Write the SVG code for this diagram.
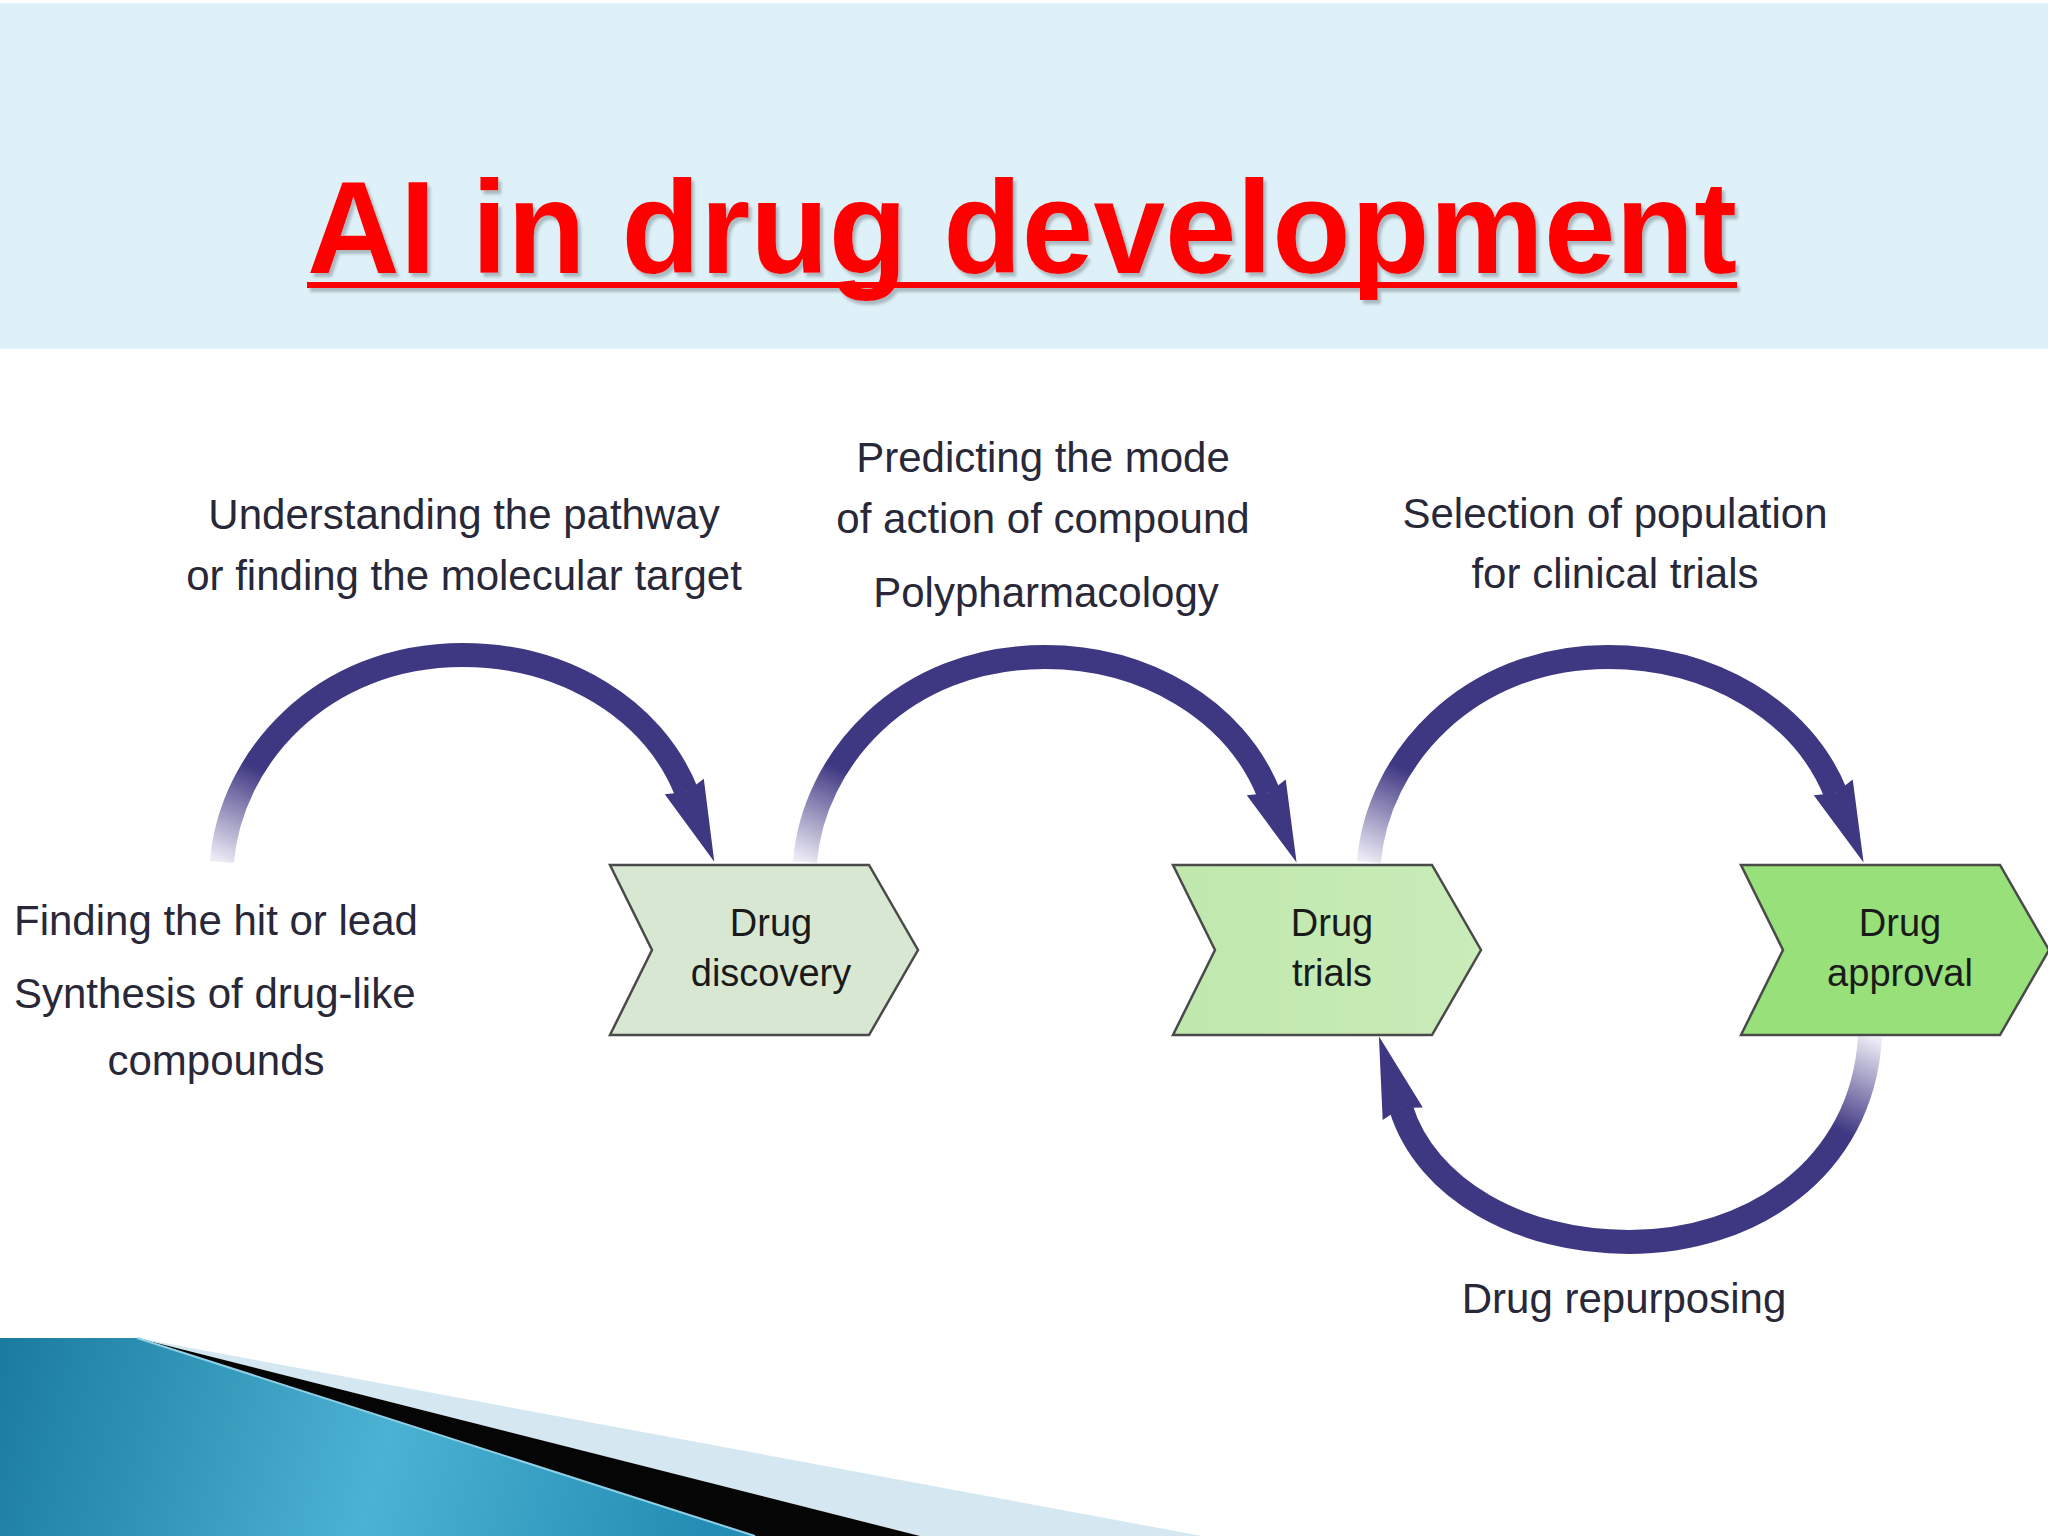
<svg xmlns="http://www.w3.org/2000/svg" width="2048" height="1536" viewBox="0 0 2048 1536">
  <style>
    .lbl { font-family: "Liberation Sans", Arial, sans-serif; font-size: 42px; fill: #282838; }
    .mid { text-anchor: middle; }
    .chev { stroke: #4a4a4a; stroke-width: 2.5; stroke-linejoin: miter; }
    .ctext { font-family: "Liberation Sans", Arial, sans-serif; font-size: 38px; fill: #1a1a1a; text-anchor: middle; }
    .arc { fill: none; stroke-width: 24; stroke-linecap: butt; }
  </style>
  <defs>
    <filter id="shadow" x="-5%" y="-20%" width="110%" height="150%">
      <feDropShadow dx="3" dy="4" stdDeviation="1.5" flood-color="#7e8a92" flood-opacity="0.55"/>
    </filter>
    <linearGradient id="teal" gradientUnits="userSpaceOnUse" x1="0" y1="1338" x2="700" y2="1536">
      <stop offset="0" stop-color="#1a7b9e"/>
      <stop offset="0.55" stop-color="#4cb2d3"/>
      <stop offset="1" stop-color="#238db3"/>
    </linearGradient>
    <linearGradient id="g1" gradientUnits="userSpaceOnUse" x1="222" y1="862" x2="262" y2="770">
      <stop offset="0" stop-color="#ecebf5"/>
      <stop offset="1" stop-color="#3e3782"/>
    </linearGradient>
    <linearGradient id="g2" gradientUnits="userSpaceOnUse" x1="805" y1="862" x2="845" y2="770">
      <stop offset="0" stop-color="#ecebf5"/>
      <stop offset="1" stop-color="#3e3782"/>
    </linearGradient>
    <linearGradient id="g3" gradientUnits="userSpaceOnUse" x1="1369" y1="862" x2="1409" y2="770">
      <stop offset="0" stop-color="#ecebf5"/>
      <stop offset="1" stop-color="#3e3782"/>
    </linearGradient>
    <linearGradient id="g4" gradientUnits="userSpaceOnUse" x1="1870" y1="1037" x2="1830" y2="1127">
      <stop offset="0" stop-color="#ecebf5"/>
      <stop offset="1" stop-color="#3e3782"/>
    </linearGradient>
    <linearGradient id="trialsFill" x1="0" y1="0" x2="1" y2="0">
      <stop offset="0" stop-color="#c0e8ad"/>
      <stop offset="1" stop-color="#c9ecb9"/>
    </linearGradient>
    <marker id="ah" markerUnits="userSpaceOnUse" markerWidth="120" markerHeight="60" viewBox="-20 -30 120 60" refX="0" refY="0" orient="auto" overflow="visible">
      <path d="M -6 -21 L 75 0 L -6 21 L 0 0 Z" fill="#3e3782"/>
    </marker>
  </defs>

  <!-- background -->
  <rect x="0" y="0" width="2048" height="1536" fill="#ffffff"/>
  <rect x="0" y="3" width="2048" height="346" fill="#dff1f8"/>

  <!-- bottom decoration -->
  <g id="decoration">
    <polygon points="137,1338 1202,1536 920,1536" fill="#d5e8f1"/>
    <polygon points="137,1338 920,1536 755,1536" fill="#050505"/>
    <polygon points="0,1338 137,1338 755,1536 0,1536" fill="url(#teal)"/>
    <line x1="137" y1="1338" x2="755" y2="1536" stroke="#8fd0e6" stroke-width="2"/>
  </g>

  <!-- title -->
  <g id="title" filter="url(#shadow)">
    <text x="307" y="273" textLength="1430" lengthAdjust="spacingAndGlyphs" font-family="'Liberation Sans', Arial, sans-serif" font-weight="bold" font-size="132" fill="#ff0000">AI in drug development</text>
    <rect x="307" y="282" width="1430" height="6" fill="#ff0000"/>
  </g>

  <!-- connectors -->
  <g id="connectors">
    <path class="arc" stroke="url(#g1)" d="M 222 862 C 230 760, 320 655, 463 655 C 563 655, 653 708, 686.5 792" marker-end="url(#ah)"/>
    <path class="arc" stroke="url(#g2)" d="M 805 862 C 813 760, 903 657, 1045 657 C 1145 657, 1235 710, 1268.5 793" marker-end="url(#ah)"/>
    <path class="arc" stroke="url(#g3)" d="M 1369 862 C 1377 760, 1468 657, 1608 657 C 1710 657, 1802 710, 1835.5 793" marker-end="url(#ah)"/>
    <path class="arc" stroke="url(#g4)" d="M 1870 1037 C 1862 1170, 1750 1242, 1629 1242 C 1520 1242, 1426 1189, 1401 1108" marker-end="url(#ah)"/>
  </g>

  <!-- nodes -->
  <g id="node-discovery">
    <polygon class="chev" points="610,865 869,865 918,950 869,1035 610,1035 652,950" fill="#d8e7d2"/>
    <text class="ctext" x="771" y="936">Drug</text>
    <text class="ctext" x="771" y="986">discovery</text>
  </g>
  <g id="node-trials">
    <polygon class="chev" points="1173,865 1432,865 1481,950 1432,1035 1173,1035 1215,950" fill="url(#trialsFill)"/>
    <text class="ctext" x="1332" y="936">Drug</text>
    <text class="ctext" x="1332" y="986">trials</text>
  </g>
  <g id="node-approval">
    <polygon class="chev" points="1741,865 2000,865 2049,950 2000,1035 1741,1035 1783,950" fill="#97e07a"/>
    <text class="ctext" x="1900" y="936">Drug</text>
    <text class="ctext" x="1900" y="986">approval</text>
  </g>

  <!-- labels -->
  <g id="label-target">
    <text class="lbl mid" x="464" y="529">Understanding the pathway</text>
    <text class="lbl mid" x="464" y="590">or finding the molecular target</text>
  </g>
  <g id="label-mode">
    <text class="lbl mid" x="1043" y="472">Predicting the mode</text>
    <text class="lbl mid" x="1043" y="533">of action of compound</text>
    <text class="lbl mid" x="1046" y="607">Polypharmacology</text>
  </g>
  <g id="label-population">
    <text class="lbl mid" x="1615" y="528">Selection of population</text>
    <text class="lbl mid" x="1615" y="588">for clinical trials</text>
  </g>
  <g id="label-hit">
    <text class="lbl" x="14" y="935">Finding the hit or lead</text>
    <text class="lbl" x="14" y="1008">Synthesis of drug-like</text>
    <text class="lbl mid" x="216" y="1075">compounds</text>
  </g>
  <g id="label-repurposing">
    <text class="lbl mid" x="1624" y="1313">Drug repurposing</text>
  </g>
</svg>
